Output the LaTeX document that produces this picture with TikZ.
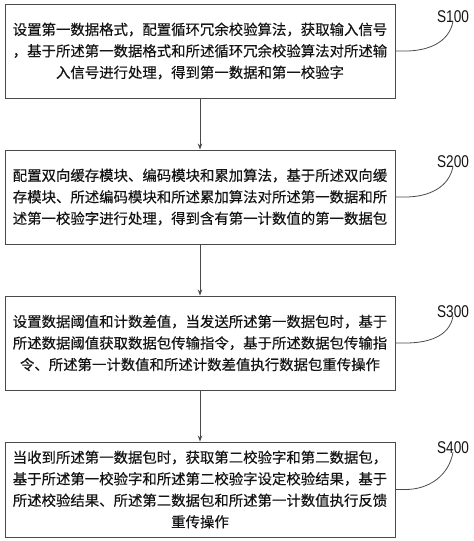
\documentclass[tikz,border=0pt]{standalone}
\usepackage{fontspec}
\usepackage{graphicx}
\setmainfont{Liberation Sans}
\newfontfamily\cjk[FakeBold=0.25]{Noto Sans CJK SC}
\usetikzlibrary{arrows.meta}
\definecolor{ln}{HTML}{4A4A4A}
\definecolor{tx}{HTML}{141414}
\tikzset{
  stepbox/.style={draw=ln, line width=0.9bp, rectangle, minimum width=390bp, minimum height=94bp,
    align=center, inner sep=0pt, text=tx, font=\cjk\fontsize{14.4bp}{21.5bp}\selectfont},
  steplabel/.style={inner sep=1bp, text=tx, font=\fontsize{17bp}{20bp}\selectfont},
  flow/.style={draw=ln, line width=0.9bp, -{Stealth[length=6bp,width=4.5bp]}},
  leader/.style={draw=ln, line width=0.8bp}
}
\begin{document}
\begin{tikzpicture}[x=1bp,y=-1bp]
\useasboundingbox (0,0) rectangle (474,541);
\fill[white] (0,0) rectangle (474,541);
\node[stepbox] (b1) at (200,51) {设置第一数据格式，配置循环冗余校验算法，获取输入信号\\，基于所述第一数据格式和所述循环冗余校验算法对所述输\\入信号进行处理，得到第一数据和第一校验字};
\node[stepbox] (b2) at (200,197) {配置双向缓存模块、编码模块和累加算法，基于所述双向缓\\存模块、所述编码模块和所述累加算法对所述第一数据和所\\述第一校验字进行处理，得到含有第一计数值的第一数据包};
\node[stepbox] (b3) at (200,343) {设置数据阈值和计数差值，当发送所述第一数据包时，基于\\所述数据阈值获取数据包传输指令，基于所述数据包传输指\\令、所述第一计数值和所述计数差值执行数据包重传操作};
\node[stepbox, minimum height=95bp] (b4) at (200,489.5) {当收到所述第一数据包时，获取第二校验字和第二数据包，\\基于所述第一校验字和所述第二校验字设定校验结果，基于\\所述校验结果、所述第二数据包和所述第一计数值执行反馈\\重传操作};
\node[steplabel] (l1) at (453,17) {\scalebox{0.8}[1]{S100}};
\node[steplabel] (l2) at (453,162) {\scalebox{0.8}[1]{S200}};
\node[steplabel] (l3) at (453,312) {\scalebox{0.8}[1]{S300}};
\node[steplabel] (l4) at (453,448) {\scalebox{0.8}[1]{S400}};
\draw[flow] (b1) -- (b2);
\draw[flow] (b2) -- (b3);
\draw[flow] (b3) -- (b4);
\draw[leader] (b1.east) -- ++(10,0) to[out=0,in=-100] ([yshift=3bp]l1.south);
\draw[leader] (b2.east) -- ++(10,0) to[out=0,in=-100] ([yshift=3bp]l2.south);
\draw[leader] (b3.east) -- ++(10,0) to[out=0,in=-100] ([yshift=3bp]l3.south);
\draw[leader] (b4.east) -- ++(10,0) to[out=0,in=-100] ([yshift=3bp]l4.south);
\end{tikzpicture}
\end{document}
